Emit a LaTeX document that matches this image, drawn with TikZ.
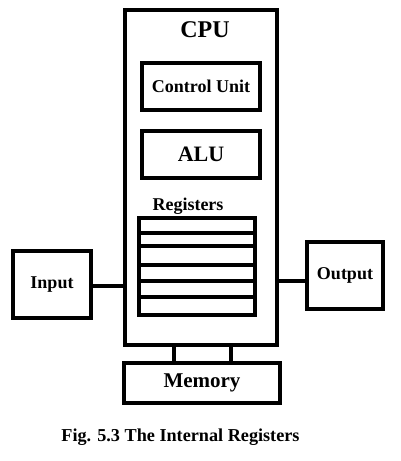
\documentclass[tikz,border=0pt]{standalone}
\usepackage{fontspec}
\setmainfont{Liberation Serif}
\begin{document}
\begin{tikzpicture}[x=1pt,y=-1pt,
  box/.style={draw=black,line width=4pt,inner sep=0pt,outer sep=0pt,font=\bfseries\fontsize{18}{20}\selectfont},
  link/.style={draw=black,line width=4pt},
  lbl/.style={inner sep=0pt,font=\bfseries}]
\useasboundingbox (0,0) rectangle (400,461);
\node[box,minimum width=152pt,minimum height=335pt] (cpu) at (201,177.5) {};
\node[lbl,font=\bfseries\fontsize{24}{26}\selectfont] (cpulbl) at (205,30) {CPU};
\node[box,minimum width=118pt,minimum height=47pt] (cu) at (201,86.5) {Control Unit};
\node[box,minimum width=118pt,minimum height=47pt,font=\bfseries\fontsize{22}{24}\selectfont] (alu) at (201,154.5) {ALU};
\node[lbl,font=\bfseries\fontsize{18}{20}\selectfont] (reglbl) at (188,206) {Registers};
\node[box,minimum width=116pt,minimum height=97pt] (reg) at (197,266.5) {};
\foreach \yy in {233,246,265,281,297}
  \draw[line width=4pt] (reg.west |- 0,\yy) -- (reg.east |- 0,\yy);
\node[box,minimum width=78pt,minimum height=67pt] (input) at (52,284.5) {Input};
\node[box,minimum width=76pt,minimum height=67pt] (output) at (345,275.5) {Output};
\node[box,minimum width=156pt,minimum height=40pt,font=\bfseries\fontsize{21}{23}\selectfont] (mem) at (202,383) {Memory};
\coordinate (inc) at (91,286);
\coordinate (outc) at (307,281);
\draw[link] (inc) -- (cpu.west |- inc);
\draw[link] (cpu.east |- outc) -- (outc);
\draw[link] (cpu.south -| 174,0) -- (mem.north -| 174,0);
\draw[link] (cpu.south -| 231,0) -- (mem.north -| 231,0);
\node[lbl,font=\bfseries\fontsize{18.2}{20}\selectfont] (cap) at (180.5,437) {Fig. 5.3 The Internal Registers};
\end{tikzpicture}
\end{document}
